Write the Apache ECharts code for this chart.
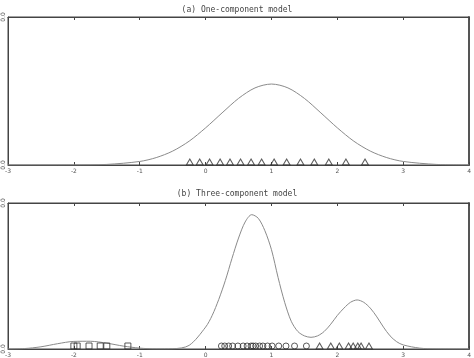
<!DOCTYPE html>
<html><head><meta charset="utf-8">
<script src="https://cdn.jsdelivr.net/npm/echarts@6/dist/echarts.min.js"></script>
<style>html,body{margin:0;padding:0;background:#fff}#c{width:474px;height:358px}</style>
</head><body><div id="c"></div>
<script>
const titles = ['(a) One-component model', '(b) Three-component model'];
const xTicks = [-3, -2, -1, 0, 1, 2, 3, 4];
const yTickLabel = '0.0';

// (a) fitted single-component density (fraction of panel height)
const topX = [-3, -2.5, -2, -1.5, -1, -0.75, -0.5, -0.25, 0, 0.25, 0.5, 0.75, 1, 1.25, 1.5, 1.75, 2, 2.25, 2.5, 2.75, 3, 3.5, 4];
const topY = [0, 0.0001, 0.0005, 0.004, 0.024, 0.05, 0.094, 0.161, 0.251, 0.352, 0.45, 0.521, 0.547, 0.521, 0.45, 0.352, 0.251, 0.161, 0.094, 0.05, 0.024, 0.004, 0.0005];
const topTriangles = [-0.24, -0.09, 0.06, 0.22, 0.37, 0.53, 0.69, 0.85, 1.04, 1.23, 1.44, 1.65, 1.87, 2.13, 2.42];

// (b) fitted three-component density
const botX = [-3, -2.75, -2.5, -2.25, -2, -1.75, -1.5, -1.25, -1, -0.75, -0.5, -0.25, 0, 0.1, 0.2, 0.3, 0.4, 0.5, 0.6, 0.7, 0.8, 0.9, 1.0, 1.1, 1.2, 1.3, 1.4, 1.5, 1.6, 1.7, 1.8, 1.9, 2.0, 2.1, 2.2, 2.3, 2.4, 2.5, 2.6, 2.7, 2.8, 2.9, 3.0, 3.25, 3.5, 4];
const botY = [0, 0.003, 0.015, 0.036, 0.052, 0.053, 0.04, 0.02, 0.006, 0.001, 0.002, 0.025, 0.15, 0.23, 0.34, 0.47, 0.62, 0.76, 0.87, 0.92, 0.895, 0.81, 0.68, 0.49, 0.32, 0.19, 0.12, 0.09, 0.08, 0.09, 0.12, 0.17, 0.23, 0.28, 0.32, 0.336, 0.32, 0.28, 0.22, 0.15, 0.09, 0.05, 0.028, 0.006, 0.001, 0];
const botSquares = [-2.0, -1.95, -1.77, -1.6, -1.5, -1.18];
const botCircles = [0.24, 0.29, 0.35, 0.41, 0.49, 0.57, 0.63, 0.69, 0.72, 0.76, 0.82, 0.87, 0.94, 1.01, 1.11, 1.22, 1.35, 1.53];
const botTriangles = [1.73, 1.9, 2.03, 2.17, 2.24, 2.31, 2.36, 2.48];

const pairs = (xs, ys) => xs.map((x, i) => [x, ys[i]]);
const onAxis = xs => xs.map(x => [x, 0]);

const axisCol = '#444';
const lblStyle = {fontSize: 6, color: '#555', fontFamily: 'DejaVu Sans'};
const grids = [
  {left: 7, right: 3, top: 17, height: 148, show: true, borderColor: axisCol, borderWidth: 1},
  {left: 7, right: 3, top: 203, height: 148, show: true, borderColor: axisCol, borderWidth: 1}
];
const xAxes = [], yAxes = [];
[0, 1].forEach(g => {
  xAxes.push({type: 'value', gridIndex: g, min: -3, max: 4, interval: 1, position: 'bottom',
    axisLine: {onZero: false, lineStyle: {color: axisCol}}, axisTick: {inside: true, length: 3, lineStyle: {color: axisCol}},
    axisLabel: Object.assign({margin: 3, formatter: v => xTicks.includes(v) ? String(v) : ''}, lblStyle),
    splitLine: {show: false}});
  xAxes.push({type: 'value', gridIndex: g, min: -3, max: 4, interval: 1, position: 'top',
    axisLine: {onZero: false, lineStyle: {color: axisCol}}, axisTick: {inside: true, length: 3, lineStyle: {color: axisCol}},
    axisLabel: {show: false}, splitLine: {show: false}});
  yAxes.push({type: 'value', gridIndex: g, min: 0, max: 1, interval: 1, position: 'left',
    axisLine: {show: true, onZero: false, lineStyle: {color: axisCol}}, axisTick: {show: false},
    axisLabel: Object.assign({rotate: 90, margin: 2, formatter: () => yTickLabel}, lblStyle),
    splitLine: {show: false}});
  yAxes.push({type: 'value', gridIndex: g, min: 0, max: 1, interval: 1, position: 'right',
    axisLine: {show: true, onZero: false, lineStyle: {color: '#555', width: 2}}, axisTick: {show: false},
    axisLabel: {show: false}, splitLine: {show: false}});
});

const lineS = (xi, yi, data) => ({type: 'line', xAxisIndex: xi, yAxisIndex: yi, data, smooth: 0.3,
  showSymbol: false, lineStyle: {color: '#8a8a8a', width: 1}, silent: true, z: 2});
const markS = (xi, yi, data, symbol, size, off) => ({type: 'scatter', xAxisIndex: xi, yAxisIndex: yi, data,
  symbol, symbolSize: size, symbolOffset: [0, off],
  itemStyle: {color: 'rgba(255,255,255,0)', borderColor: '#333', borderWidth: 1}, z: 3});

const chart = echarts.init(document.getElementById('c'), null, {renderer: 'canvas'});
chart.setOption({
  animation: false,
  backgroundColor: '#fff',
  title: [
    {text: titles[0], left: 'center', top: 1, textStyle: {fontSize: 8, fontWeight: 'normal', color: '#444', fontFamily: 'DejaVu Sans Mono'}},
    {text: titles[1], left: 'center', top: 185, textStyle: {fontSize: 8, fontWeight: 'normal', color: '#444', fontFamily: 'DejaVu Sans Mono'}}
  ],
  grid: grids,
  xAxis: xAxes,
  yAxis: yAxes,
  series: [
    lineS(0, 0, pairs(topX, topY)),
    markS(0, 0, onAxis(topTriangles), 'triangle', [7, 6], -3),
    lineS(2, 2, pairs(botX, botY)),
    markS(2, 2, onAxis(botSquares), 'rect', 6, -3),
    markS(2, 2, onAxis(botCircles), 'circle', 6, -3),
    markS(2, 2, onAxis(botTriangles), 'triangle', [7, 6], -3)
  ]
});
</script></body></html>
